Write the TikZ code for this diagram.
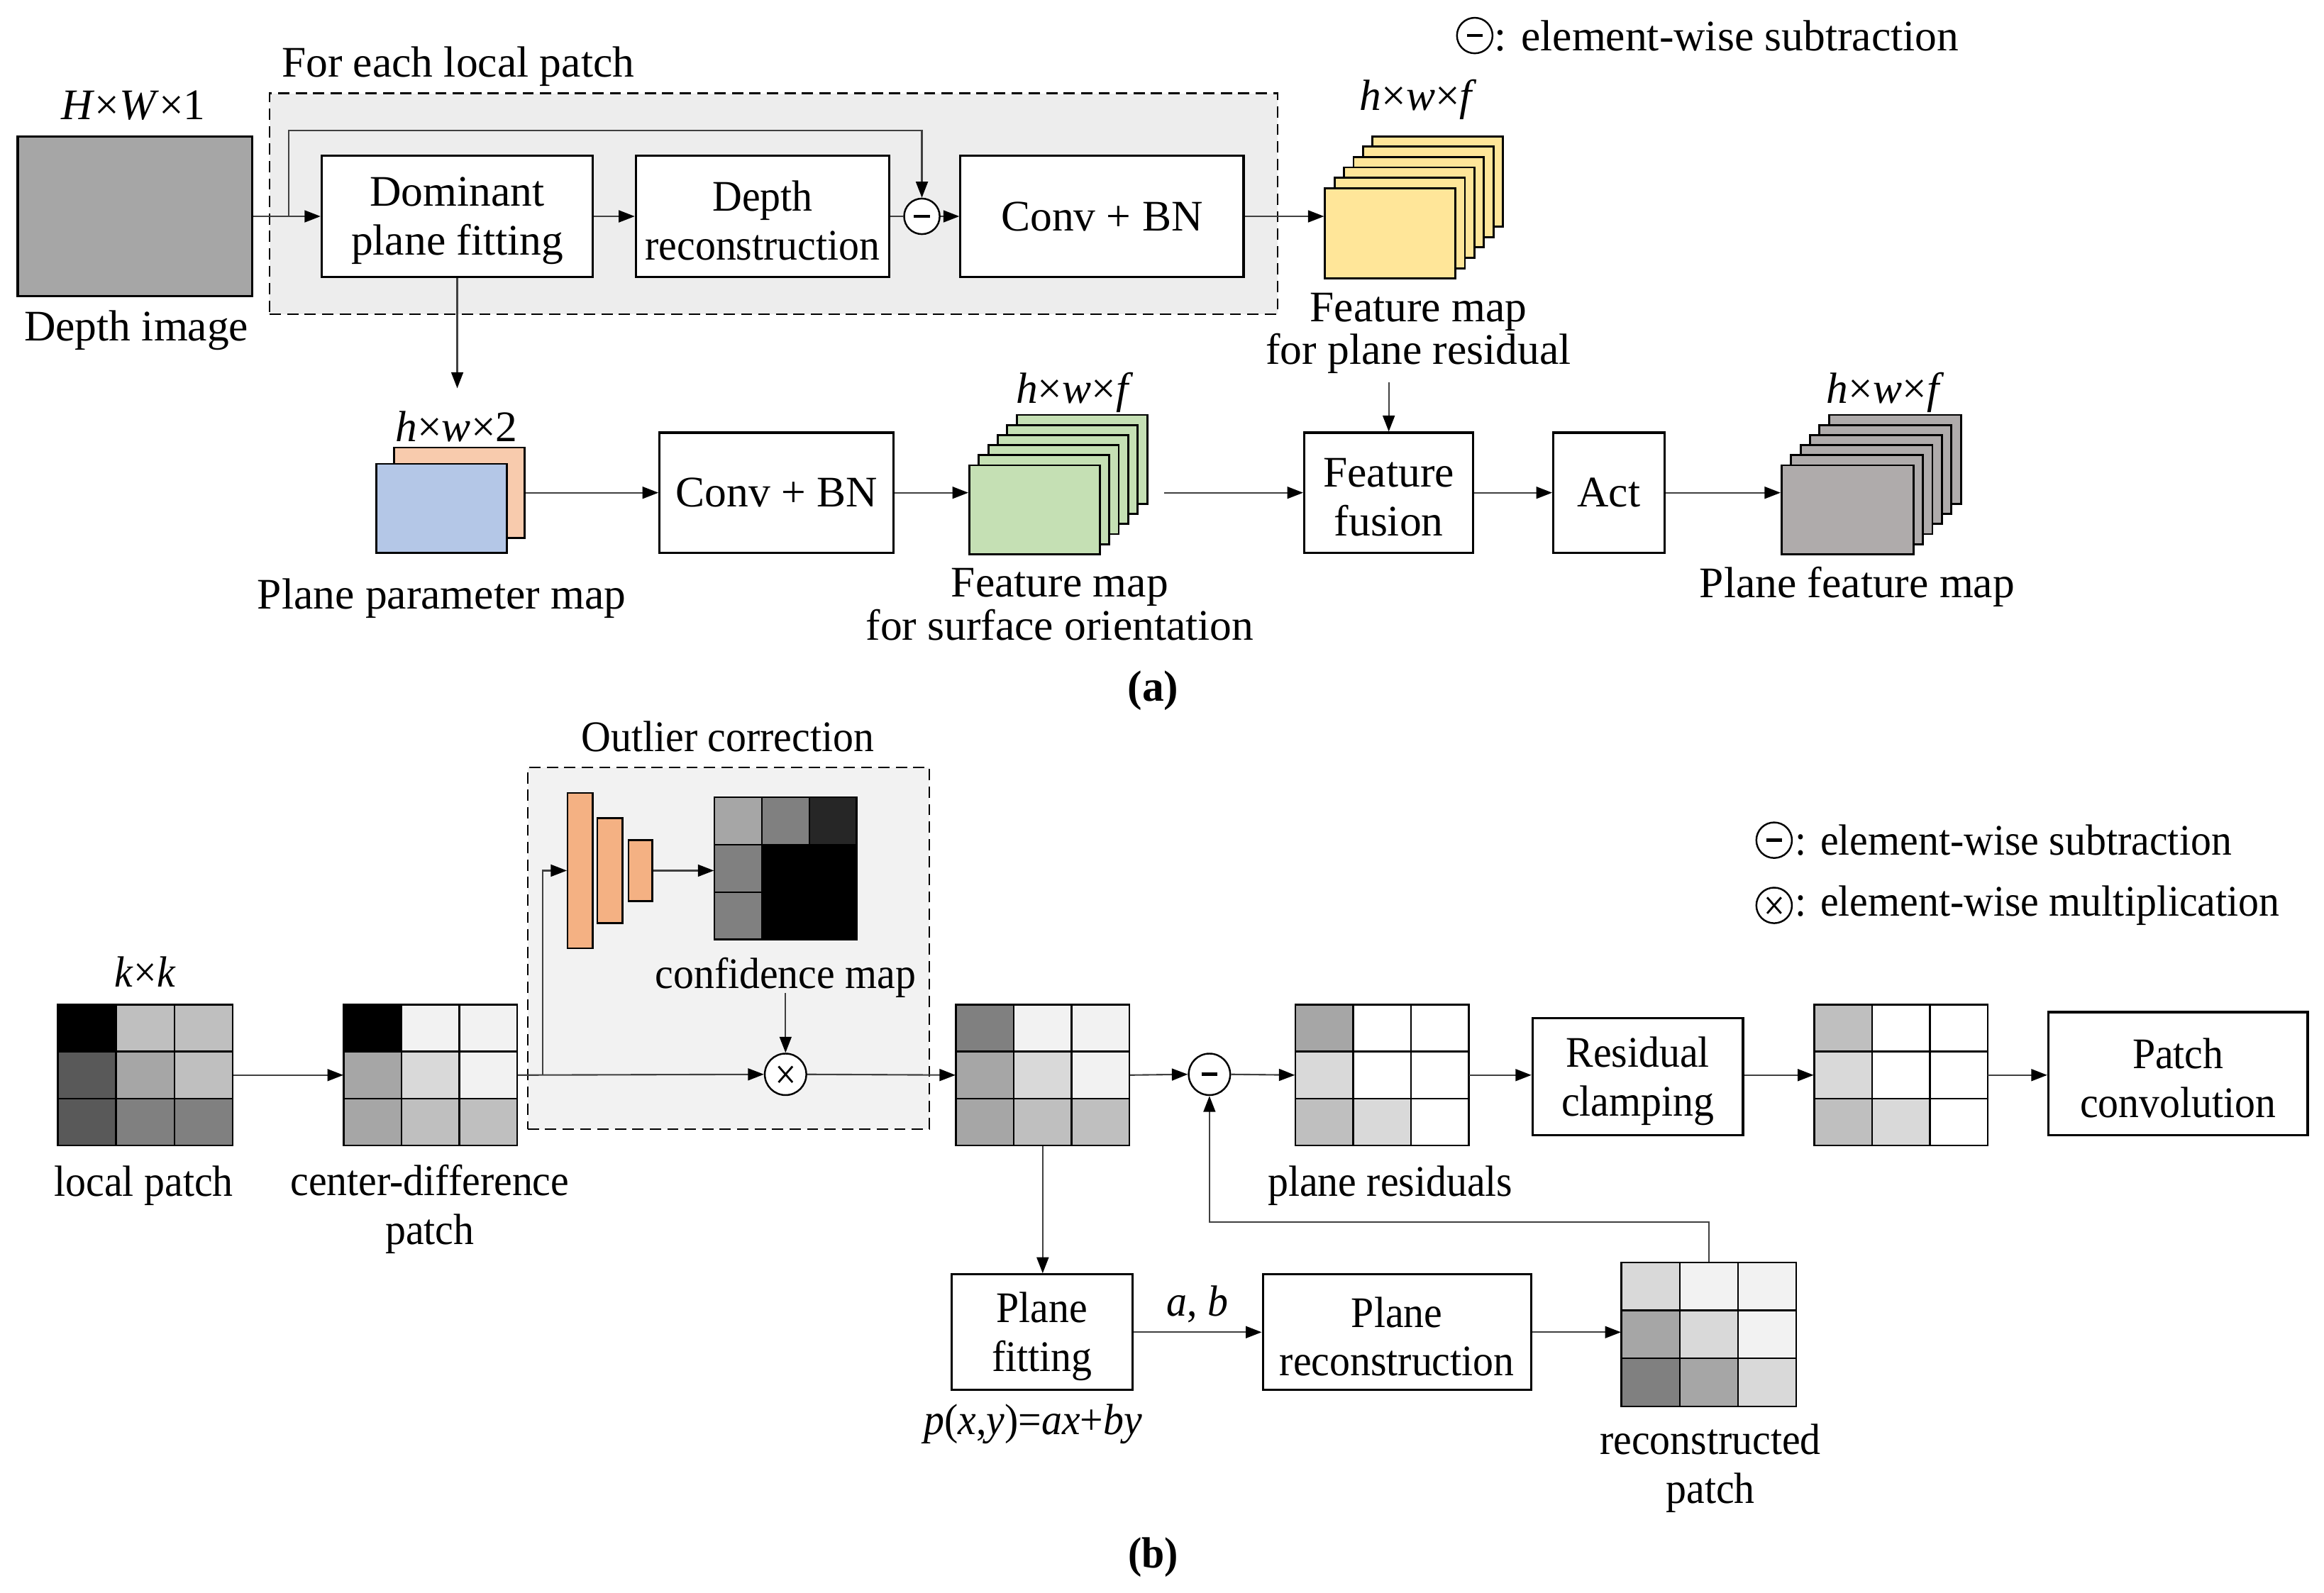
\documentclass[tikz,border=0pt]{standalone}
\usepackage{fontspec}
\setmainfont{Liberation Serif}
\newfontfamily\narrowfont{Liberation Serif}[FakeStretch=0.94]
\usetikzlibrary{arrows.meta,calc}
\definecolor{gA}{HTML}{F2F2F2}
\definecolor{gB}{HTML}{D9D9D9}
\definecolor{gC}{HTML}{BFBFBF}
\definecolor{gD}{HTML}{A6A6A6}
\definecolor{gE}{HTML}{808080}
\definecolor{gF}{HTML}{595959}
\definecolor{gG}{HTML}{262626}
\definecolor{yel}{HTML}{FFE699}
\definecolor{grn}{HTML}{C5E0B4}
\definecolor{blu}{HTML}{B4C7E7}
\definecolor{peach}{HTML}{F8CBAD}
\definecolor{orng}{HTML}{F4B183}
\definecolor{stone}{HTML}{AFABAB}
\definecolor{panela}{HTML}{EDEDED}
\definecolor{panelb}{HTML}{F2F2F2}
\tikzset{
  wh/.style 2 args={minimum width={#1*0.2089mm}, minimum height={#2*0.2089mm}},
  box/.style={draw=black, line width=0.9pt, fill=white, inner sep=0pt, align=center},
  tbox/.style={box, label={[lbl]center:{#1}}},
  ntbox/.style={box, label={[lbl, font=\narrowfont\fontsize{17.5}{19.6}\selectfont]center:{#1}}},
  conn/.style={draw=black!75, line width=0.6pt},
  arr/.style={conn, -{Triangle[length=6.4pt,width=4.8pt,color=black]}},
  txt/.style={inner sep=0pt, align=center},
  lbl/.style={txt, yshift=-0.62mm},
  cell/.style={draw=black, line width=0.7pt},
  sheet/.style={draw=black, line width=0.8pt, inner sep=0pt},
  op/.style={circle, draw=black, line width=0.7pt, fill=white, inner sep=0pt, minimum size={#1*0.2089mm}},
  subop/.style={op=#1, path picture={\draw[line width=1.3pt] ([xshift=-3.2pt]path picture bounding box.center) -- ([xshift=3.2pt]path picture bounding box.center);}},
  mulop/.style={op=#1, path picture={\draw[line width=0.8pt] ([shift={(-2.8pt,-3.2pt)}]path picture bounding box.center) -- ([shift={(2.8pt,3.2pt)}]path picture bounding box.center) ([shift={(-2.8pt,3.2pt)}]path picture bounding box.center) -- ([shift={(2.8pt,-3.2pt)}]path picture bounding box.center);}},
  panelbox/.style={draw=black, line width=0.7pt, dash pattern=on 4.5pt off 2.5pt, inner sep=0pt},
}
\newcommand\patchgrid[6]{%
  \foreach \cc [count=\i from 0] in {#6} {%
    \pgfmathtruncatemacro\pcol{mod(\i,3)}%
    \pgfmathtruncatemacro\prow{(\i-\pcol)/3}%
    \fill[\cc] ({#2+\pcol*#4/3},{#3+\prow*#5/3}) rectangle ++({#4/3},{#5/3});
  }%
  \draw[cell] (#2,#3) rectangle ++(#4,#5);
  \draw[cell] ({#2+#4/3},#3) -- ++(0,#5) ({#2+2*#4/3},#3) -- ++(0,#5)
              (#2,{#3+#5/3}) -- ++(#4,0) (#2,{#3+2*#5/3}) -- ++(#4,0);
  \node[inner sep=0pt, wh={#4}{#5}] (#1) at ({#2+#4/2},{#3+#5/2}) {};
}
\newcommand\sheetstack[9]{%
  \foreach \k in {#6,...,2} {%
    \draw[sheet, fill=#9] ({#2+(\k-1)*(#7)},{#3+(\k-1)*(#8)}) rectangle ++(#4,#5);
  }%
  \node[sheet, fill=#9, wh={#4}{#5}] (#1) at ({#2+#4/2},{#3+#5/2}) {};
  \node[inner sep=0pt, wh={#4}{#5}] (#1b) at ({#2+(#6-1)*(#7)+#4/2},{#3+(#6-1)*(#8)+#5/2}) {};
}
\begin{document}
\begin{tikzpicture}[x=0.2089mm,y=-0.2089mm, font=\fontsize{17.5}{19.6}\selectfont]
\useasboundingbox (0,0) rectangle (1568,1075);

% ================= (a) =================
\node[panelbox, fill=panela, wh={680}{149}] (pa) at (522,137.5) {};
\node[lbl] (pat) at (309,42) {For each local patch};

\node[subop=24] (legA) at (995,24) {};
\node[txt, anchor=west] (legAt) at (1008,24) {: element-wise subtraction};

\node[lbl] (hw1) at (90,68) {\textit{H}×\textit{W}×1};
\node[draw=black, line width=0.9pt, fill=gD, inner sep=0pt, wh={158}{108}] (depth) at (91,146) {};
\node[lbl] (depthl) at (92,220) {Depth image};

\node[tbox={Dominant\\plane fitting}, wh={183}{82}] (dom) at (308.5,146) {};
\node[ntbox={Depth\\reconstruction}, wh={171}{82}] (drec) at (514.5,146) {};
\node[subop=24] (sub1) at (622,146) {};
\node[box, wh={191}{82}] (cbn1) at (743.5,146) {Conv + BN};

\sheetstack{yst}{894}{127}{88}{61}{6}{6.4}{-7}{yel}
\node[lbl] (hwfa) at (957,64) {\textit{h}×\textit{w}×\textit{f}};
\node[lbl, font=\fontsize{17.5}{17.2}\selectfont] (fmpr) at (957,222) {Feature map\\for plane residual};

\node[lbl] (hw2) at (308,285) {\textit{h}×\textit{w}×2};
\node[sheet, fill=peach, wh={88}{61}] (pp) at (310,332.5) {};
\node[sheet, fill=blu, wh={88}{60}] (ppf) at (298,343) {};
\node[lbl] (ppl) at (298,401) {Plane parameter map};

\node[box, wh={158}{81}] (cbn2) at (524,332.5) {Conv + BN};
\sheetstack{gst}{654}{314}{88}{60}{6}{6.4}{-6.8}{grn}
\node[lbl] (hwfb) at (725,262) {\textit{h}×\textit{w}×\textit{f}};
\node[lbl, font=\fontsize{17.5}{17.2}\selectfont] (fmso) at (715,405) {Feature map\\for surface orientation};

\node[tbox={Feature\\fusion}, wh={114}{81}] (ff) at (937,332.5) {};
\node[box, wh={75}{81}] (act) at (1085.5,332.5) {Act};
\sheetstack{kst}{1202}{314}{89}{60}{6}{6.4}{-6.8}{stone}
\node[lbl] (hwfc) at (1272,262) {\textit{h}×\textit{w}×\textit{f}};
\node[lbl] (pfm) at (1253,393) {Plane feature map};

\node[lbl] (capa) at (778,463) {\textbf{(a)}};

% connectors (a)
\draw[arr] (depth.east) -- (dom.west);
\coordinate (bp) at (195,146);
\coordinate (bpTop) at (195,88);
\draw[arr] (bp) -- (bpTop) -| (sub1.north);
\draw[arr] (dom.east) -- (drec.west);
\draw[conn] (drec.east) -- (sub1.west);
\draw[arr] (sub1.east) -- (cbn1.west);
\draw[arr] (cbn1.east) -- (cbn1.east -| yst.west);
\coordinate (domEnd) at (308.5,262);
\draw[arr] (dom.south) -- (domEnd);
\coordinate (ffIn) at (937,258);
\draw[arr] (ffIn) -- (ff.north);
\draw[arr] (pp.east |- cbn2.west) -- (cbn2.west);
\draw[arr] (cbn2.east) -- (cbn2.east -| gst.west);
\coordinate (gout) at ($(gstb.east |- ff.west)+(11,0)$);
\draw[arr] (gout) -- (ff.west);
\draw[arr] (ff.east) -- (act.west);
\draw[arr] (act.east) -- (act.east -| kst.west);

% ================= (b) =================
\begin{scope}[font=\narrowfont\fontsize{17.5}{19.6}\selectfont]
\node[panelbox, fill=panelb, wh={271}{244}] (pb) at (491.5,640) {};
\node[txt] (oc) at (491,497) {Outlier correction};

\node[subop=24] (legB) at (1197,567) {};
\node[txt, anchor=west] (legBt) at (1211,567) {: element-wise subtraction};
\node[mulop=24] (legC) at (1197,611) {};
\node[txt, anchor=west] (legCt) at (1211,611) {: element-wise multiplication};

\node[lbl] (kk) at (98,653) {\textit{k}×\textit{k}};
\patchgrid{local}{39}{678}{118}{95}{black,gC,gC,gF,gD,gC,gF,gE,gE}
\node[lbl] (locall) at (97,797) {local patch};

\patchgrid{cdiff}{232}{678}{117}{95}{black,gA,gA,gD,gB,gA,gD,gC,gC}
\node[lbl] (cdiffl) at (290,813) {center-difference\\patch};

\node[draw=black, line width=0.7pt, fill=orng, inner sep=0pt, wh={17}{105}] (bar1) at (391.5,587.5) {};
\node[draw=black, line width=0.7pt, fill=orng, inner sep=0pt, wh={17}{71}] (bar2) at (411.5,587.5) {};
\node[draw=black, line width=0.7pt, fill=orng, inner sep=0pt, wh={16}{41}] (bar3) at (432,587.5) {};

\patchgrid{conf}{482}{538}{96}{96}{gD,gE,gG,gE,black,black,gE,black,black}
\node[lbl] (confl) at (530,657) {confidence map};
\node[mulop=28] (mul) at (530,725) {};

\patchgrid{wp}{645}{678}{117}{95}{gE,gA,gA,gD,gB,gA,gD,gC,gC}
\node[subop=28] (sub2) at (816,725) {};
\patchgrid{resid}{874}{678}{117}{95}{gD,white,white,gB,white,white,gC,gB,white}
\node[lbl] (residl) at (938,797) {plane residuals};

\node[tbox={Residual\\clamping}, wh={142}{79}] (rclamp) at (1105,726.5) {};
\patchgrid{clamp}{1224}{678}{117}{95}{gC,white,white,gB,white,white,gC,gB,white}
\node[tbox={Patch\\convolution}, wh={175}{83}] (pconv) at (1469.5,724.5) {};

\node[tbox={Plane\\fitting}, wh={122}{78}] (pfit) at (703,899) {};
\node[lbl] (eq) at (697,958) {\textit{p}(\textit{x},\textit{y})=\textit{ax}+\textit{by}};
\node[tbox={Plane\\reconstruction}, wh={181}{78}] (prec) at (942.5,899) {};
\node[lbl] (ab) at (808,877) {\textit{a}, \textit{b}};
\patchgrid{recon}{1094}{852}{118}{97}{gB,gA,gA,gD,gB,gA,gE,gD,gB}
\node[lbl] (reconl) at (1154,988) {reconstructed\\patch};

\node[lbl] (capb) at (778,1048) {\textbf{(b)}};
\end{scope}

% connectors (b)
\draw[arr] (local.east) -- (cdiff.west);
\draw[arr] (cdiff.east) -- (mul.west);
\coordinate (br) at (366,725);
\draw[arr] (br) |- (bar1.west);
\draw[arr] (bar3.east) -- (bar3.east -| conf.west);
\coordinate (confOut) at (530,670);
\draw[arr] (confOut) -- (mul.north);
\draw[arr] (mul.east) -- (wp.west);
\draw[arr] (wp.east) -- (sub2.west);
\draw[arr] (sub2.east) -- (resid.west);
\draw[arr] (resid.east) -- (resid.east -| rclamp.west);
\draw[arr] (rclamp.east |- clamp.west) -- (clamp.west);
\draw[arr] (clamp.east) -- (clamp.east -| pconv.west);
\draw[arr] (wp.south) -- (wp.south |- pfit.north);
\draw[arr] (pfit.east) -- (prec.west);
\draw[arr] (prec.east) -- (prec.east -| recon.west);
\draw[arr] (recon.north) -- ++(0,-27) -| (sub2.south);
\end{tikzpicture}
\end{document}
